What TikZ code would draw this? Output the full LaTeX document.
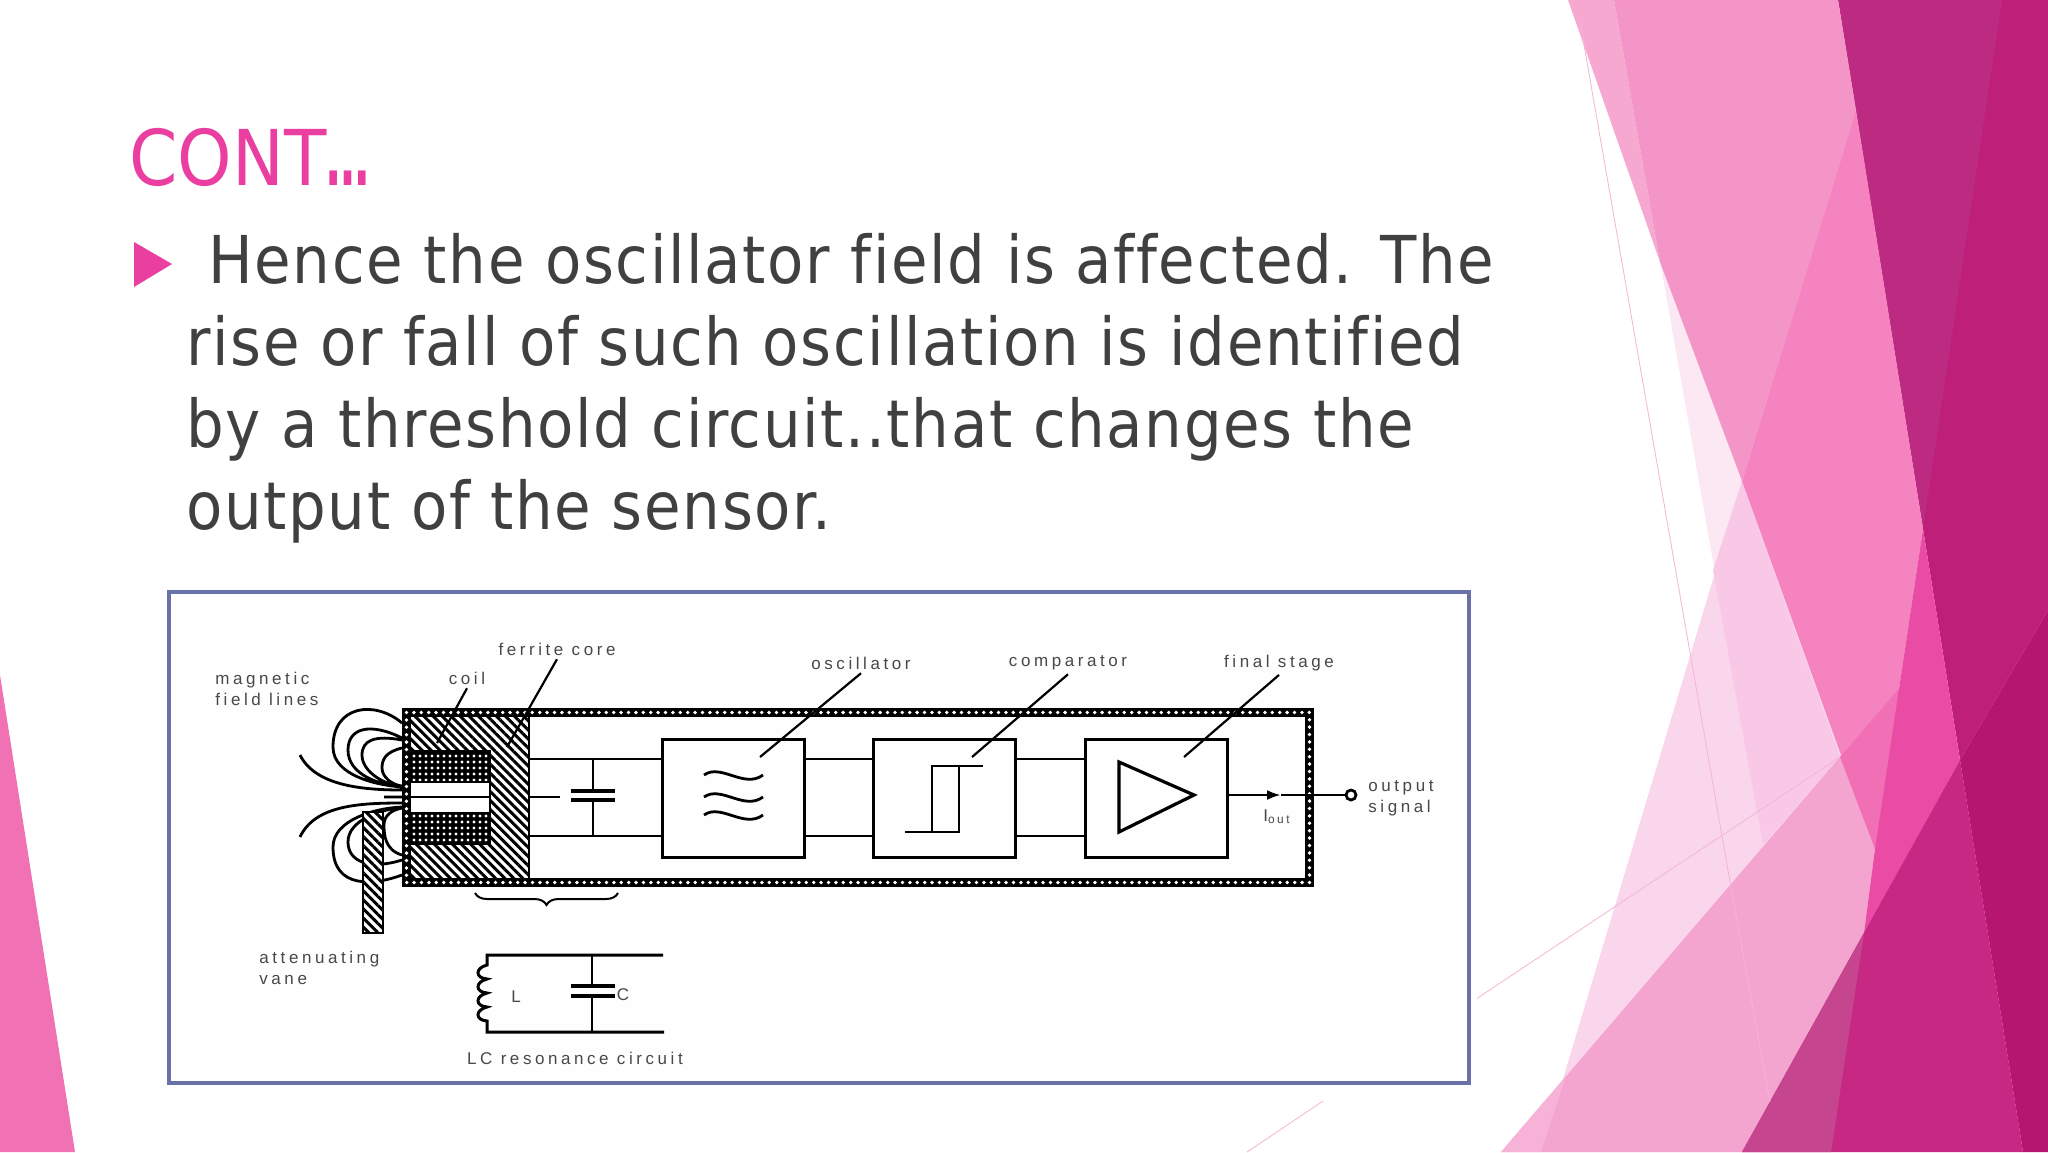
\documentclass[tikz,border=0pt]{standalone}
\usepackage{fontspec}
\setmainfont{DejaVu Sans Condensed}
\newfontfamily\bodyfont[LetterSpace=2.55,Ligatures=CommonOff]{DejaVu Sans Condensed}
\newfontfamily\labelfont[LetterSpace=21]{Liberation Sans}
\usetikzlibrary{arrows.meta,patterns.meta,decorations.pathreplacing}

\definecolor{slidepink}{HTML}{EA3FA0}
\definecolor{slidetext}{HTML}{404040}
\definecolor{framecol}{HTML}{6872A8}
\definecolor{labelcol}{HTML}{484848}
\definecolor{thinline}{HTML}{F4B5D5}
\definecolor{leftpink}{HTML}{F072B4}
\definecolor{paleA}{HTML}{FAD6EC}
\definecolor{paleB}{HTML}{FCE8F3}
\definecolor{paleC}{HTML}{F8C8E6}
\definecolor{topA}{HTML}{F7A8D0}
\definecolor{topB}{HTML}{F495C8}
\definecolor{midA}{HTML}{F483C0}
\definecolor{lowA}{HTML}{F3A5D0}
\definecolor{lowB}{HTML}{F7B2D8}
\definecolor{midB}{HTML}{F06FB5}
\definecolor{deepA}{HTML}{EA4BA5}
\definecolor{darkA}{HTML}{BC2A82}
\definecolor{darkB}{HTML}{BE1F78}
\definecolor{darkC}{HTML}{C72884}
\definecolor{darkD}{HTML}{C5458F}
\definecolor{darkE}{HTML}{B5166F}
\tikzset{
  wire/.style={line width=1.4pt,black},
  leader/.style={line width=1.1pt,black},
  blockbox/.style={draw,line width=1.5pt,minimum width=71pt,minimum height=59pt,outer sep=0pt,inner sep=0pt},
  lbl/.style={font=\labelfont\fontsize{8.5}{10.5}\selectfont,text=labelcol,inner sep=0pt},
  tagged/.style={lbl,outer sep=2pt},
  bodyline/.style={font=\bodyfont\fontsize{33}{40}\selectfont,text=slidetext,anchor=base west,inner sep=0pt},
  hatchfill/.style={pattern={Lines[angle=-45,distance=3.2pt,line width=1.5pt]},pattern color=black},
  dotfill/.style={pattern={Dots[radius=.85pt,distance=3pt]},pattern color=white},
  thin rule/.style={thinline,line width=.4pt},
}

\begin{document}
\begin{tikzpicture}[x=.5pt,y=-.5pt]
\useasboundingbox (0,0) rectangle (2048,1152);
% slide background
\fill[white] (0,0) rectangle (2048,1152);
\fill[leftpink] (0,675) -- (75,1152) -- (0,1152) -- cycle;
\draw[thin rule] (1247,1152) -- (1323,1101);
\fill[paleA] (1854,110) -- (1541,1152) -- (1900,1152) -- (1923,529) -- cycle;
\fill[paleB] (1614,0) -- (1763,845) -- (1840,757) -- (1742,481) -- cycle;
\fill[paleC] (1742,481) -- (1840,757) -- (1763,845) -- (1713,570) -- cycle;
\fill[darkB] (1900,0) -- (2048,0) -- (2048,610) -- (1960,760) -- (1923,529) -- cycle;
\fill[darkA] (1838,0) -- (2002,0) -- (1923,529) -- cycle;
\fill[topA] (1568,0) -- (1614,0) -- (1660,262) -- cycle;
\fill[topB] (1614,0) -- (1838,0) -- (1856,110) -- (1742,481) -- (1660,262) -- cycle;
\fill[midA] (1856,110) -- (1923,529) -- (1875,849) -- (1742,481) -- cycle;
\fill[lowA] (1501,1152) -- (1840,757) -- (1900,687) -- (1875,849) -- (1864,933) -- (1742,1152) -- cycle;
\fill[lowB] (1501,1152) -- (1566,1076) -- (1541,1152) -- cycle;
\fill[midB] (1840,757) -- (1900,687) -- (1875,849) -- cycle;
\fill[deepA] (1923,529) -- (1960,760) -- (1864,933) -- (1875,849) -- cycle;
\fill[darkC] (1960,760) -- (2023,1152) -- (1742,1152) -- cycle;
\fill[darkD] (1864,933) -- (1831,1152) -- (1742,1152) -- cycle;
\fill[darkE] (1960,760) -- (2048,610) -- (2048,1152) -- (2023,1152) -- cycle;
\draw[thin rule] (1580,22) -- (1730,882) -- (1770,1102);
\draw[thin rule] (1476,999) -- (1840,757);
% heading and text
\node[font=\fontsize{38.5}{44}\selectfont,text=slidepink,anchor=base west,inner sep=0pt] (title) at (129,185) {CONT{\bfseries\scalebox{.62}[1]{…}}};
\fill[slidepink] (134,242) -- (172,264) -- (134,287) -- cycle;
\node[bodyline] (line1) at (208,283) {Hence the oscillator field is affected. The};
\node[bodyline] (line2) at (186,365) {rise or fall of such oscillation is identified};
\node[bodyline] (line3) at (186,447) {by a threshold circuit..that changes the};
\node[bodyline] (line4) at (186,529) {output of the sensor.};
% picture
\fill[white!99.5!black] (163,575) rectangle (1477,1100);
\draw[framecol,line width=1.7pt] (169,592) rectangle (1469,1083);
% field lines
\draw[wire]
  (402,723) .. controls (375,700) and (333,705) .. (333,747) .. controls (333,775) and (375,785) .. (402,787)
  (402,738) .. controls (370,722) and (348,728) .. (348,750) .. controls (348,775) and (380,785) .. (402,787)
  (402,740) .. controls (375,735) and (362,740) .. (362,755) .. controls (362,772) and (385,785) .. (402,787)
  (402,748) .. controls (385,752) and (382,760) .. (382,768) .. controls (382,777) and (392,785) .. (402,786)
  (300,755) .. controls (315,785) and (360,790) .. (402,790)
  (300,837) .. controls (315,805) and (360,803) .. (402,803)
  (384,797) -- (402,797)
  (402,875) .. controls (375,885) and (333,890) .. (333,847) .. controls (333,820) and (375,808) .. (402,807)
  (402,860) .. controls (370,870) and (348,862) .. (348,842) .. controls (348,820) and (380,810) .. (402,807)
  (402,855) .. controls (385,850) and (384,835) .. (384,825) .. controls (384,815) and (392,810) .. (402,808);
% vane
\fill[white] (363,812) rectangle (383,933);
\path[hatchfill] (363,812) rectangle (383,933);
\draw[line width=1pt] (363,812) rectangle (383,933);
% ferrite core and coil
\fill[white] (405,712) rectangle (529,883);
\path[hatchfill] (410,717) rectangle (529,878);
\fill[white] (410,750) rectangle (490,845);
\fill[black] (410,750) rectangle (490,782);
\path[dotfill] (412,752) rectangle (488,781);
\fill[black] (410,813) rectangle (490,845);
\path[dotfill] (412,814) rectangle (488,843);
\draw[line width=1pt] (410,782) -- (490,782) (410,813) -- (490,813) (490,750) -- (490,845);
\draw[line width=1pt] (529,717) -- (529,878);
\draw[wire] (402,797) -- (490,797);
% housing
\draw[line width=4.5pt,black] (406.5,712.5) rectangle (1309.5,882.5);
\draw[white,line width=1.9pt,line cap=round,dash pattern=on 0pt off 3.7pt] (406.5,712.5) rectangle (1309.5,882.5);
% blocks
\coordinate (topRail) at (0,759);
\coordinate (botRail) at (0,836);
\coordinate (capTop) at (593,791);
\coordinate (capBot) at (593,800);
\node[blockbox] (osc) at (733,798.5) {};
\node[blockbox] (comp) at (944.5,798.5) {};
\node[blockbox] (final) at (1156,798.5) {};
\draw[wire]
  (529,759) -- (osc.west |- topRail)
  (529,836) -- (osc.west |- botRail)
  (osc.east |- topRail) -- (comp.west |- topRail)
  (osc.east |- botRail) -- (comp.west |- botRail)
  (comp.east |- topRail) -- (final.west |- topRail)
  (comp.east |- botRail) -- (final.west |- botRail)
  (capTop) -- (capTop |- topRail)
  (capBot) -- (capBot |- botRail)
  (529,797) -- (560,797);
\draw[line width=1.7pt] (571,791) -- (615,791) (571,800) -- (615,800);
% filter, comparator, amplifier symbols
\foreach \yy in {775,797,815}
  \draw[line width=1.4pt] (704,\yy) .. controls (721,\yy-12) and (744,\yy+14) .. (763,\yy);
\draw[line width=1.4pt] (905,832) -- (959,832) -- (959,766) (932,832) -- (932,766) -- (983,766);
\draw[line width=1.6pt] (1119,762) -- (1194,795) -- (1119,832) -- cycle;
% output
\coordinate (ioutTip) at (1281,795);
\node[draw,circle,line width=1.4pt,minimum size=5pt,inner sep=0pt,fill=white] (outpin) at (1351,795) {};
\draw[wire,-{Latex[length=7pt,width=5pt]}] (final.east |- ioutTip) -- (ioutTip);
\draw[wire] (ioutTip) -- (outpin.west);
% labels
\node[lbl,anchor=north west,align=left] (fieldlbl) at (215,672) {magnetic\\field lines};
\node[tagged] (coillbl) at (467,678) {coil};
\node[tagged] (ferritelbl) at (557,649) {ferrite core};
\node[tagged] (osclbl) at (861,663) {oscillator};
\node[tagged] (complbl) at (1068,663) {comparator};
\node[tagged] (finallbl) at (1279,663) {final stage};
\node[lbl,anchor=north west,align=left] (outlbl) at (1368,780) {output\\signal};
\node[lbl,anchor=north west,align=left] (vanelbl) at (259,951) {attenuating\\vane};
\node[lbl] (lclbl) at (575,1058) {LC resonance circuit};
\node[lbl] (iout) at (1277,817) {I\textsubscript{out}};
\coordinate (oscTip) at (760,757);
\coordinate (compTip) at (972,757);
\coordinate (finalTip) at (1184,757);
\coordinate (coilTip) at (437,743);
\coordinate (ferriteTip) at (507,747);
\draw[leader] (osclbl.south) -- (oscTip);
\draw[leader] (complbl.south) -- (compTip);
\draw[leader] (finallbl.south) -- (finalTip);
\draw[leader] (coillbl.south) -- (coilTip);
\draw[leader] (ferritelbl.south) -- (ferriteTip);
% brace
\draw[line width=1pt,decorate,decoration={brace,mirror,amplitude=6pt}] (475,893) -- (618,893);
% LC circuit
\node[lbl] (lmark) at (516,997) {L};
\node[lbl] (cmark) at (623,995) {C};
\draw[line width=1.5pt] (663,955) -- (487,955) -- (487,965)
  .. controls (475,968) and (475,978) .. (487,979)
  .. controls (475,982) and (475,992) .. (487,993)
  .. controls (475,996) and (475,1006) .. (487,1007)
  .. controls (475,1010) and (475,1020) .. (487,1021)
  -- (487,1032) -- (664,1032);
\draw[wire] (592,955) -- (592,986) (592,996) -- (592,1032);
\draw[line width=1.7pt] (571,986) -- (615,986) (571,996) -- (615,996);
\end{tikzpicture}
\end{document}
